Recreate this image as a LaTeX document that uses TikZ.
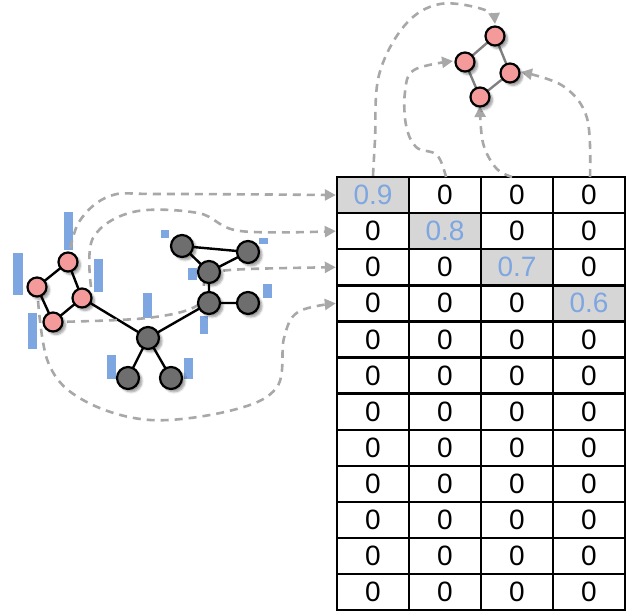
\documentclass[tikz,border=0pt]{standalone}
\usepackage{fontspec}
\setmainfont{Liberation Sans}
\usetikzlibrary{shadows.blur,arrows.meta}
\definecolor{pinkf}{HTML}{F59A9A}
\definecolor{grayf}{HTML}{6E6E6E}
\definecolor{barb}{HTML}{7EA6E0}
\definecolor{dashc}{HTML}{A8A8A8}
\definecolor{cellg}{HTML}{D6D6D6}
\tikzset{
 pn/.style={circle,draw=black,line width=2.2pt,fill=pinkf,minimum size=19pt,inner sep=0pt,blur shadow={shadow blur steps=6,shadow xshift=3pt,shadow yshift=-3pt}},
 gn/.style={circle,draw=black,line width=2.2pt,fill=grayf,minimum size=22pt,inner sep=0pt,blur shadow={shadow blur steps=6,shadow xshift=3pt,shadow yshift=-3pt}},
 edge/.style={line width=2.4pt,black},
 tedge/.style={line width=2.4pt,gray},
 bar/.style={fill=barb,draw=none},
 dsh/.style={dashc,line width=2.6pt,dash pattern=on 8pt off 6pt,-{Triangle[length=11pt,width=11pt]}},
 cell/.style={draw=black,line width=2.4pt,minimum width=72pt,minimum height=36.1pt,inner sep=0pt,font=\fontsize{28}{28}\selectfont},
 dcell/.style={cell,fill=cellg,text=barb},
 dtxt/.style={text=barb,font=\fontsize{28}{28}\selectfont}
}
\begin{document}
\begin{tikzpicture}[x=1pt,y=-1pt]
\useasboundingbox (0,0) rectangle (627,615);
% bars
\foreach \x/\y/\w/\h in {64/212/9/38,13/253/10/42,94/259/9/33,28/313/9/36,143/293/9/25,107/355/9/24,184/358/9/21,200/316/8/18,188/268/9/12,161/230/8/8,259/238/9/6,263/284/9/14}
  \fill[bar] (\x,\y) rectangle ++(\w,\h);
% table
\foreach \r in {1,...,12}{
 \foreach \c in {1,...,4}{
  \pgfmathsetmacro{\cx}{337+72*(\c-0.5)}
  \pgfmathsetmacro{\cy}{177+36.1*(\r-0.5)}
  \ifnum\r=\c
   \node[dcell] (c\r\c) at (\cx,\cy) {};
  \else
   \node[cell] (c\r\c) at (\cx,\cy) {0};
  \fi
 }}
\node[dtxt] at (c11) {0.9};
\node[dtxt] at (c22) {0.8};
\node[dtxt] at (c33) {0.7};
\node[dtxt] at (c44) {0.6};
% left graph
\coordinate (pa) at (68,262);\coordinate (pb) at (37,287);\coordinate (pc) at (53,322);\coordinate (pd) at (82,298);
\coordinate (ge) at (148,338);\coordinate (gf) at (128,378);\coordinate (gg) at (171,378);
\coordinate (gh) at (209,303);\coordinate (gi) at (209,272);\coordinate (gj) at (182,246);\coordinate (gk) at (248,252);\coordinate (gl) at (248,303);
\draw[edge] (pa)--(pb)--(pc)--(pd)--cycle;
\draw[edge] (pd)--(ge) (ge)--(gf) (ge)--(gg) (ge)--(gh) (gh)--(gi) (gh)--(gl) (gi)--(gj) (gi)--(gk) (gj)--(gk);
% top graph
\coordinate (tp) at (495,36);\coordinate (tq) at (465,62);\coordinate (tr) at (510,73);\coordinate (ts) at (480,97);
\draw[tedge] (tp)--(tq)--(ts)--(tr)--cycle;
% dashed curves
\draw[dsh] plot[smooth,tension=0.6] coordinates {(pc) (147,318) (198,305) (206,278) (230,270) (c31.west)};
\draw[dsh] plot[smooth,tension=0.6] coordinates {(pa) (79,222) (110,196) (160,194) (c11.west)};
\draw[dsh] plot[smooth,tension=0.6] coordinates {(91,287) (93,238) (133,212) (198,213) (240,231) (c21.west)};
\draw[dsh] plot[smooth,tension=0.6] coordinates {(pb) (48,362) (83,400) (150,420) (233,410) (277,387) (284,338) (298,312) (c41.west)};
\draw[dsh] plot[smooth,tension=0.6] coordinates {(c11.north) (375,140) (379,75) (405,25) (440,4) (485,10) (495,24)};
\draw[dsh] plot[smooth,tension=0.6] coordinates {(446,177) (437,155) (416,147) (406,125) (405,92) (414,70) (453,61)};
\draw[dsh] plot[smooth,tension=0.6] coordinates {(512,177) (496,168) (483,143) (480,106)};
\draw[dsh] plot[smooth,tension=0.6] coordinates {(590,177) (587,118) (563,86) (521,72)};
% nodes
\node[pn] (na) at (pa) {};\node[pn] (nb) at (pb) {};\node[pn] (nc) at (pc) {};\node[pn] (nd) at (pd) {};
\foreach \n in {ge,gf,gg,gh,gi,gj,gk,gl} \node[gn] (n\n) at (\n) {};
\foreach \n in {tp,tq,tr,ts} \node[pn] (n\n) at (\n) {};
\end{tikzpicture}
\end{document}
